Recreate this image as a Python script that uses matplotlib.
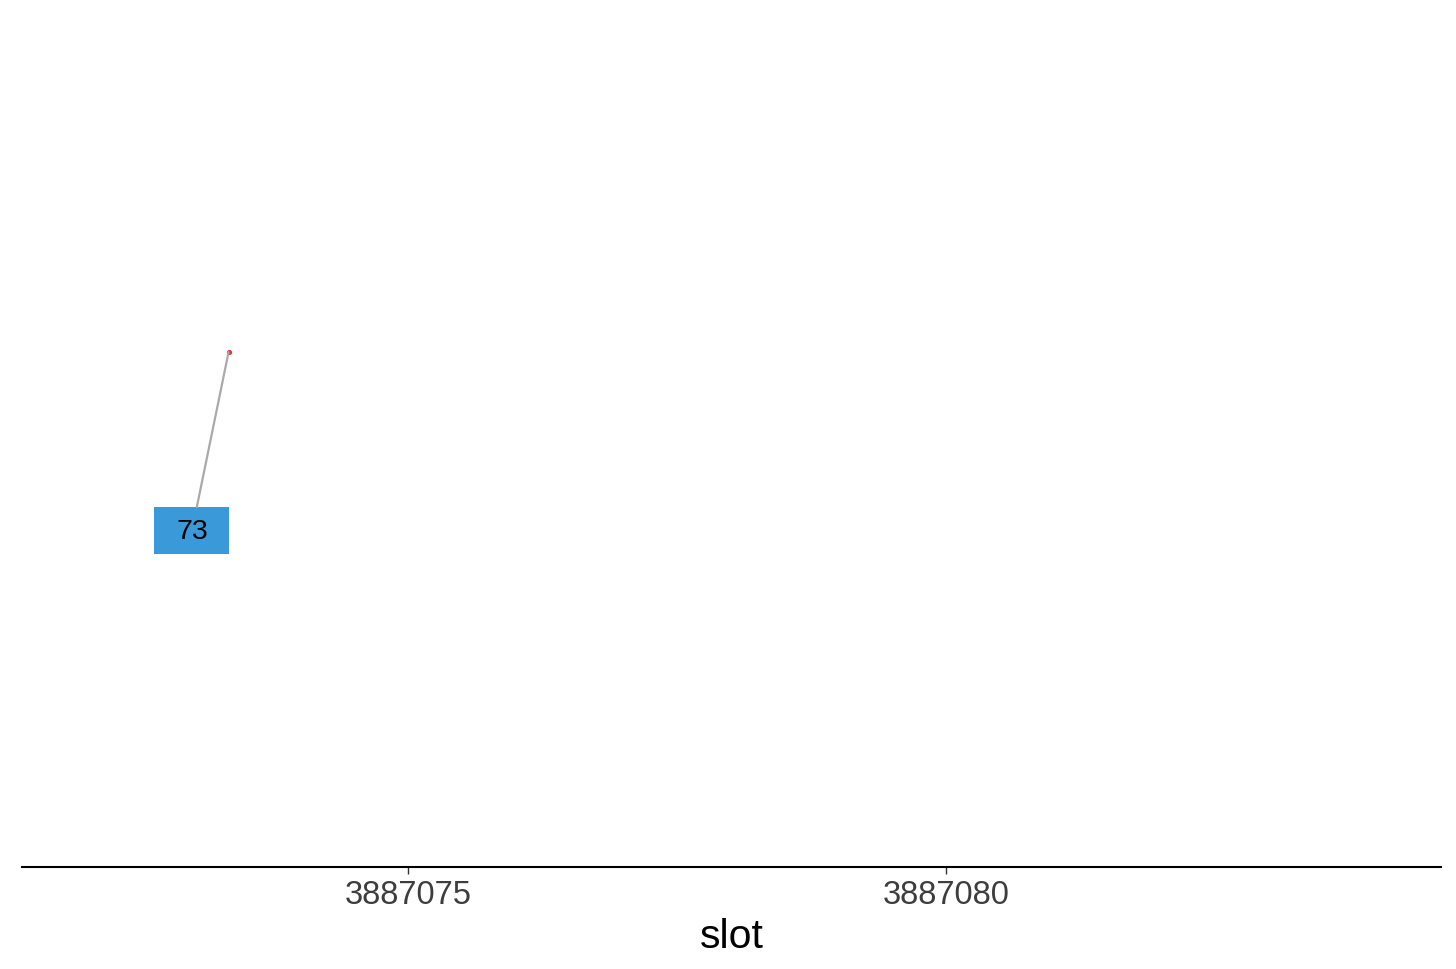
import matplotlib
matplotlib.use("Agg")
import matplotlib.pyplot as plt
from matplotlib.patches import Rectangle
from matplotlib.transforms import ScaledTranslation

plt.rcParams["font.family"] = ["Liberation Sans", "DejaVu Sans"]

# data
slot = [3887073.33]
value = [0.60]
labels = ["73"]
label_slot = [3887072.99]
label_value = [0.392]
xticks = [3887075, 3887080]

fig = plt.figure(figsize=(14.56, 9.70), dpi=100)
ax = fig.add_axes([22 / 1456, 102 / 970, (1441 - 22) / 1456, (868 - 10) / 970])

ax.scatter(slot, value, s=14, color="#e8322b", zorder=3, linewidths=0)
box_w, box_h = 0.75, 0.47  # inches
for sx, sy, lab, lx, ly in zip(slot, value, labels, label_slot, label_value):
    tr = fig.dpi_scale_trans + ScaledTranslation(lx, ly, ax.transData)
    rect = Rectangle((-box_w / 2, -box_h / 2), box_w, box_h, transform=tr,
                     facecolor="#3a9ad9", edgecolor="none", zorder=2)
    ax.add_patch(rect)
    ax.annotate(lab, xy=(sx, sy), xytext=(lx, ly), ha="center", va="center",
                fontsize=20.5, color="black", zorder=4,
                arrowprops=dict(arrowstyle="-", color="#aaaaaa", lw=1.6,
                                patchA=rect, shrinkA=0, shrinkB=0))

ax.set_xlim(3887071.41, 3887084.6)
ax.set_ylim(0, 1)
ax.set_xticks(xticks)
ax.set_xticklabels([str(t) for t in xticks])
ax.tick_params(axis="x", length=5, width=1, color="#333333", labelsize=23.5,
               labelcolor="#3d3d3d", pad=4)
ax.set_yticks([])
for side in ["top", "right", "left"]:
    ax.spines[side].set_visible(False)
ax.spines["bottom"].set_linewidth(1.5)
ax.set_xlabel("slot", fontsize=29.5, labelpad=5)

fig.savefig("out.png", dpi=100)
